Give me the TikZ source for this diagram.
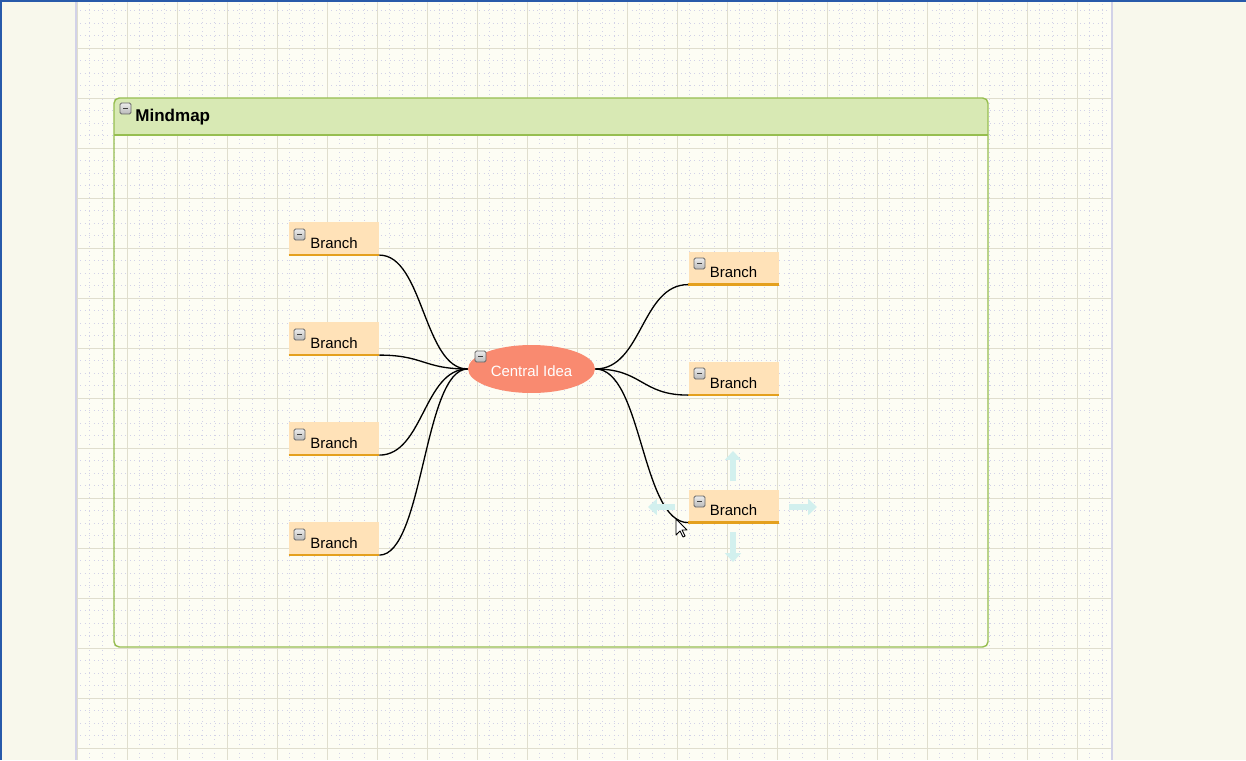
\documentclass[tikz,border=0pt]{standalone}
\usepackage{fontspec}
\setmainfont{Liberation Sans}
\usetikzlibrary{arrows.meta,shapes.geometric}
\definecolor{outerbg}{RGB}{248,248,236}
\definecolor{pagebg}{RGB}{253,253,244}
\definecolor{minorc}{RGB}{210,210,232}
\definecolor{majorc}{RGB}{224,222,206}
\definecolor{frameblue}{RGB}{40,90,170}
\definecolor{cgreen}{RGB}{150,190,80}
\definecolor{hdrfill}{RGB}{216,233,180}
\definecolor{brfill}{RGB}{255,226,184}
\definecolor{brline}{RGB}{228,160,30}
\definecolor{cfill}{RGB}{249,138,112}
\definecolor{handlec}{RGB}{210,240,238}
\begin{document}
\begin{tikzpicture}[x=0.02cm,y=-0.02cm,
  minor/.style={draw=minorc,line width=0.55pt,dotted},
  major/.style={draw=majorc,line width=0.55pt},
  branch/.style={rectangle,fill=brfill,minimum width=1.8cm,minimum height=0.65cm,
    inner sep=0pt,font=\fontsize{8.5}{10}\selectfont,text height=11.3pt,text depth=0pt},
  bline/.style={draw=brline,line width=1.3pt},
  central/.style={ellipse,fill=cfill,minimum width=2.54cm,minimum height=0.96cm,inner sep=0pt,
    text=white,font=\fontsize{8.5}{10}\selectfont,text height=8pt,text depth=0pt},
  conn/.style={draw=black,line width=0.75pt},
  handle/.style={draw=handlec,line width=3pt,-{Triangle[length=5pt,width=9pt]}},
  collapse/.pic={
    \draw[draw=gray!80!black,top color=gray!15,bottom color=gray!55,rounded corners=0.8pt,line width=0.5pt] (0,0) rectangle (11,11);
    \draw[line width=0.9pt,black!75] (3,5.5) -- (8,5.5);
  }]
\useasboundingbox (0,0) rectangle (1246,760);
% backgrounds
\fill[outerbg] (0,0) rectangle (1246,760);
\fill[pagebg] (76,0) rectangle (1112,760);
% grid
\foreach \i in {0,...,82} { \draw[minor] ({77+12.5*\i},0) -- ++(0,760); }
\foreach \j in {0,...,59} { \draw[minor] (76,{10.5+12.5*\j}) -- (1112,{10.5+12.5*\j}); }
\foreach \k in {0,...,20} { \draw[major] ({77+50*\k},0) -- ++(0,760); }
\foreach \k in {0,...,14} { \draw[major] (76,{48+50*\k}) -- (1112,{48+50*\k}); }
\draw[draw=minorc,line width=0.8pt] (76,0) -- (76,760) (1112,0) -- (1112,760);
% outer blue frame
\draw[frameblue,line width=1pt] (0,0.7) -- (1246,0.7);
\draw[frameblue,line width=1pt] (0.7,0) -- (0.7,760);
% container
\begin{scope}
  \clip[rounded corners=3pt] (114,98) rectangle (988,647);
  \fill[hdrfill] (114,98) rectangle (988,135);
\end{scope}
\draw[cgreen,line width=0.6pt] (114,135) -- (988,135);
\draw[cgreen,line width=0.8pt,rounded corners=3pt] (114,98) rectangle (988,647);
\pic at (120,103) {collapse};
\node[anchor=base west,inner sep=0pt,font=\bfseries\fontsize{9.7}{12}\selectfont] (title) at (135,122) {Mindmap};
% nodes
\node[central] (C) at (531.5,369) {Central Idea};
\node[branch] (L1) at (334,238.5) {Branch};
\node[branch] (L2) at (334,338.5) {Branch};
\node[branch] (L3) at (334,438.5) {Branch};
\node[branch] (L4) at (334,538.5) {Branch};
\node[branch] (R1) at (733.5,268) {Branch};
\node[branch] (R2) at (733.5,378.5) {Branch};
\node[branch] (R3) at (733.5,506) {Branch};
\foreach \n in {L1,L2,L3,L4,R1,R2,R3} { \draw[bline] (\n.south west) -- (\n.south east); }
% icons
\pic at (475,351) {collapse};
\pic at (294,229) {collapse};
\pic at (294,329) {collapse};
\pic at (294,429) {collapse};
\pic at (294,529) {collapse};
\pic at (694,258) {collapse};
\pic at (694,368) {collapse};
\pic at (694,496) {collapse};
% connectors
\foreach \n in {L1,L2,L3,L4} { \draw[conn] (\n.south east) .. controls +(44,0) and +(-44,0) .. (C.west); }
\foreach \n in {R1,R2,R3} { \draw[conn] (C.east) .. controls +(47,0) and +(-47,0) .. (\n.south west); }
% move handles
\coordinate (hT1) at (733,481); \coordinate (hT2) at (733,451);
\coordinate (hB1) at (733,532); \coordinate (hB2) at (733,562);
\coordinate (hL1) at (675,507); \coordinate (hL2) at (648,507);
\coordinate (hR1) at (789,507); \coordinate (hR2) at (817,507);
\draw[handle] (hT1) -- (hT2);
\draw[handle] (hB1) -- (hB2);
\draw[handle] (hL1) -- (hL2);
\draw[handle] (hR1) -- (hR2);
% cursor
\draw[fill=white,line width=0.5pt,line join=round] (676,519) -- ++(0,16) -- ++(4,-4) -- ++(3,6) -- ++(2,-1) -- ++(-3,-6) -- ++(5,0) -- cycle;
\end{tikzpicture}
\end{document}
